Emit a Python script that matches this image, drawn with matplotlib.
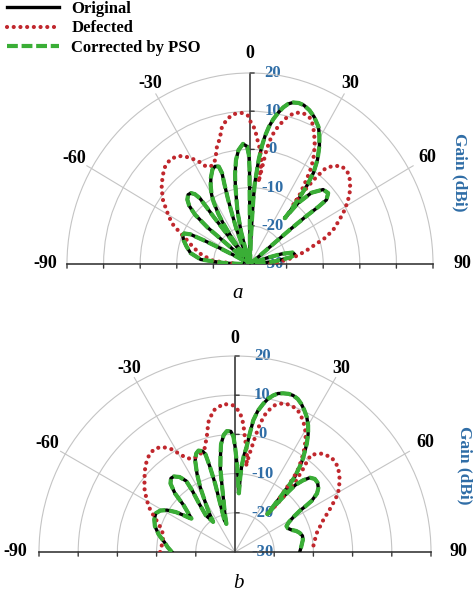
import numpy as np
import matplotlib
matplotlib.use("Agg")
import matplotlib.pyplot as plt

# ---------------- data (angle in degrees, gain in dBi) ----------------
top_original = [
    (-90, -28), (-88, -23), (-85, -16.5), (-80, -13.5), (-75, -12), (-71, -10.8), (-68, -10.2),
    (-66, -10.3), (-64.5, -12), (-63.8, -16), (-63.3, -20), (-62.5, -25), (-60, -30),
    (-51, -30), (-50.5, -25), (-50.5, -20), (-50.5, -15), (-49.3, -10.2), (-47.5, -7.5), (-45.5, -6),
    (-43, -5.2), (-41, -5.4), (-39.5, -6.3), (-38.5, -8), (-38.6, -11), (-38.8, -14), (-38.8, -19),
    (-39, -24), (-38, -30),
    (-37, -30), (-36.5, -26), (-36, -21.6), (-34.5, -17), (-33.5, -14.5), (-31.5, -11), (-30, -9),
    (-27.5, -6.7), (-25.3, -5), (-22.5, -3.2), (-20.5, -2.7), (-18.5, -3.1), (-17.8, -5), (-18.5, -8),
    (-19.5, -12), (-20.5, -16), (-22, -20), (-23, -24), (-22, -30),
    (-18, -30), (-17, -25), (-16, -21), (-14, -16), (-12.5, -13), (-11, -9), (-9.8, -6), (-8, -2.5),
    (-6, 0), (-3.5, 1.5), (-1.5, 0.8), (-0.6, -1.5), (-0.3, -5), (-0.3, -9), (-0.3, -14), (-0.3, -20),
    (0, -30),
    (1, -30), (2, -24), (2.7, -18), (3.1, -13), (3.5, -9), (4.5, -5), (5, -2.5), (6, 1), (7, 3.8),
    (8.2, 6.3), (9.5, 8.4), (11, 10.3), (12.5, 12), (14, 13.2), (15.6, 13.9), (17.5, 14.2),
    (19.5, 14.1), (22, 13.4), (24.5, 12.3), (27.5, 10.5), (29.5, 8.5), (31.5, 6.3), (34, 3),
    (36, -0.5), (37.2, -4.4), (38, -8.6), (38.3, -12.4), (38.4, -14.7),
    (39.5, -9.3), (42, -4.9), (45.7, -2.1), (49, -1.7), (51.2, -3.2), (51.3, -6), (50.8, -10.5),
    (50.5, -16), (50.5, -22), (51, -27), (52, -30),
    (70, -30), (71, -25), (73, -21), (75.5, -18), (78.5, -17.5), (81, -18.8), (84, -23), (87, -28),
    (90, -30),
]

top_defected = [
    (-90, -27), (-88, -25), (-85.4, -20), (-79.7, -16.6), (-74.5, -14), (-69, -11), (-66.8, -9.2),
    (-63.4, -6.1), (-58.7, -3.4), (-54.8, -0.9), (-50.5, 1.3), (-46, 3.2), (-42.2, 4.5), (-38.5, 5),
    (-35, 4.5), (-32.4, 3.4), (-30, 1.9), (-27.7, 0.4), (-25.3, -1.7), (-23, -2.3), (-20.6, -2),
    (-18.5, -0.5), (-16.7, 1.7), (-14, 4), (-12.2, 6.5), (-9.5, 8.4), (-6.6, 9.5), (-3.3, 9.6),
    (-0.7, 8.8), (0, 7.5), (2.2, 5.3), (3.5, 2.7), (5.2, 0.1), (6.4, -2.4), (6.7, -5), (6.5, -7),
    (6, -8.5), (6.8, -6.8), (7.8, -3.2), (8.6, 0.3), (10, 4), (12.1, 6.9), (14.6, 9.6), (17.2, 11.5),
    (20.2, 12.1), (23.9, 11.5), (27, 8.6), (29.8, 5.6), (32.3, 2.4), (34, -0.7), (35.3, -4),
    (36.8, -7.3), (37.3, -10), (37.2, -10.6),
    (37.6, -7), (38, -4), (38.5, -1), (39.5, 2.5), (41.5, 4.3), (44.3, 5.8), (47.6, 6), (51, 5.1),
    (54.6, 3.6), (58, 1.6), (61.3, -0.5), (64.6, -2.9), (68.6, -5.6), (71.6, -8.4), (74.2, -11.6),
    (77.8, -14.7), (81.2, -17.6), (84, -20), (87, -23), (89.5, -25),
]

top_corrected = list(top_original)

bot_original = [
    (-90, -13.9), (-86, -12.8), (-82, -11.8), (-77, -10), (-72, -8.5), (-68, -7.8), (-64, -7.5),
    (-61, -8.2), (-58.4, -9.6), (-56, -11.8), (-54.5, -13.8), (-53.2, -15.5), (-52.5, -16),
    (-47.7, -12.3), (-45.7, -8.6), (-43.3, -6), (-41, -5.1), (-39, -5.2), (-36.5, -6.2), (-34.5, -8),
    (-34.8, -10.8), (-36.5, -14.5), (-38.5, -18), (-36, -20.5),
    (-33, -17.5), (-30.7, -15), (-28.2, -11.2), (-25.9, -7.8), (-23.5, -4.5), (-21.5, -3),
    (-19.8, -2.5), (-17.8, -3), (-16.8, -4), (-16.4, -7.4), (-16.2, -11.8), (-17, -17),
    (-18.5, -21.5), (-17, -22.5),
    (-14.5, -19.5), (-12.5, -16.5), (-11, -12.5), (-10, -8.5), (-8.5, -5), (-7.4, -2.3), (-5.5, 0),
    (-3.9, 0.9), (-2, 0.8), (-0.8, -0.5), (0, -3), (0.8, -6), (1.6, -8.5), (2.5, -11.5), (3.2, -14.5),
    (3.8, -15),
    (4, -11), (4.4, -8.2), (5.2, -5.5), (6.3, -3), (7, 0), (7.9, 3.9), (9.2, 6.5), (10.8, 8.5),
    (12.2, 10), (13.7, 11.1), (15.2, 11.9), (16.9, 12.3), (18.7, 12.6), (20.4, 12.6), (22.3, 12.2),
    (24.1, 11.4), (26, 10.3), (28, 9), (30, 7.3), (31.8, 5.4), (33.5, 3.2), (34.8, 1.2), (36.2, -0.8),
    (37.2, -2.7), (38.5, -5.5), (39, -8), (39.4, -11), (39.8, -14), (40.5, -17.3),
    (41, -13), (41.5, -9.5), (42, -7), (43.5, -4.8), (45.2, -3.1), (47.5, -2.4), (50, -2.5),
    (52.5, -3.2), (54.5, -4.3), (56.3, -6.5), (57, -8.5), (57.5, -10.3), (59, -12.5), (61, -14.3),
    (63.3, -15.3), (66, -15.2), (68.7, -14.5), (71, -13.5), (73.5, -12.8), (76.5, -12.3),
    (79.8, -12.4), (83, -12.8), (86, -13.1), (90, -13.5),
]

bot_defected = [
    (-90, -10.9), (-86, -11.2), (-83, -11.3), (-79, -11.3), (-76.7, -11.2), (-73.5, -10.5),
    (-71.5, -9.9), (-69, -8.8), (-67, -7.9), (-63.7, -5.9), (-59.6, -3.9), (-55, -1.8), (-50.3, 0),
    (-46, 1.8), (-42, 2.9), (-39, 3.3), (-37, 3.2), (-34.5, 2.5), (-31.5, 0.7), (-29.5, -1.3),
    (-27.3, -3), (-25, -3.8), (-22, -3.8), (-19.5, -3.5), (-16.4, -2.5), (-13.8, 0.2), (-11.6, 3.8),
    (-8.7, 6.5), (-4.5, 7.9), (-0.6, 7.4), (2, 5.7), (3.7, 2.8), (4.9, -0.6), (6.6, -3.9), (7.5, -6.4),
    (7.2, -8), (8.5, -4.5), (9.9, -0.3), (11, 3.3), (12.7, 6.6), (15.2, 8.8), (17.9, 9.9), (21, 10.1),
    (24, 9.5), (27.4, 7.8), (30.9, 5.2), (33.6, 2.2), (35.9, -1.1), (37.3, -3.5), (38.1, -5.5),
    (38.8, -9), (39.8, -13), (40.4, -17.6),
    (41.3, -14), (41.3, -10), (40.5, -6), (39.5, -3), (38.5, -0.5), (38, 1.5), (41.3, 3.4),
    (45.5, 4.5), (50.5, 4.1), (55.6, 2.4), (60.5, 0.2), (64.9, -2.9), (70.2, -6.1), (77.3, -8.7),
    (86, -10), (90, -10.1),
]

bot_corrected = list(bot_original)

angle_ticks = [-90, -60, -30, 0, 30, 60, 90]
gain_ticks = [-30, -20, -10, 0, 10, 20]
series_labels = ["Original", "Defected", "Corrected by PSO"]
panel_labels = ["a", "b"]
radial_title = "Gain (dBi)"

# ---------------- style ----------------
W, H = 474, 594
BLUE = "#2F6DA6"
GRID = "#c4c4c4"
AXC = "#3a3a3a"
RED = "#C0272D"
GREEN = "#3AAE36"
SERIF = ["Liberation Serif", "DejaVu Serif"]

fig = plt.figure(figsize=(W / 100, H / 100), dpi=100)


def polar_panel(cx, cy, rx, ry, original, defected, corrected, lab_r, lab_off):
    hgt = 2 * ry / H
    ax = fig.add_axes([(cx - rx) / W, (H - cy) / H - 0.25 * hgt, 2 * rx / W, hgt],
                      projection="polar")
    ax.set_aspect("auto")
    ax.set_theta_zero_location("N")
    ax.set_theta_direction(-1)
    ax.set_thetamin(-90)
    ax.set_thetamax(90)
    ax.set_ylim(gain_ticks[0], gain_ticks[-1])
    ax.set_thetagrids([a for a in angle_ticks if abs(a) not in (0, 90)], labels=[""] * 4)
    ax.set_rgrids(gain_ticks[1:-1], labels=[""] * (len(gain_ticks) - 2))
    ax.grid(True, color=GRID, lw=0.8)
    ax.tick_params(axis="both", length=0, labelsize=0)
    ax.spines["polar"].set_color(GRID)
    ax.spines["polar"].set_linewidth(0.8)
    for s in ("start", "end"):
        ax.spines[s].set_color(AXC)
        ax.spines[s].set_linewidth(1.2)
    ax.spines["inner"].set_visible(False)
    ax.patch.set_alpha(0)

    # vertical 0-degree axis
    ax.plot([0, 0], [gain_ticks[0], gain_ticks[-1]], color=AXC, lw=1.2, zorder=2)
    for g in gain_ticks[1:]:
        ax.annotate("", xy=(0, g), xytext=(3, 0), textcoords="offset points",
                    arrowprops=dict(arrowstyle="-", color=AXC, lw=1, shrinkA=0, shrinkB=0))
        for side in (-90, 90):
            ax.annotate("", xy=(np.deg2rad(side), g), xytext=(0, -3), textcoords="offset points",
                        arrowprops=dict(arrowstyle="-", color=AXC, lw=1, shrinkA=0, shrinkB=0),
                        annotation_clip=False)
    # angular extension ticks beyond outer ring
    for a in angle_ticks:
        if abs(a) in (0, 90):
            continue
        ax.annotate("", xy=(np.deg2rad(a), gain_ticks[-1]),
                    xytext=(4 * np.sin(np.deg2rad(a)), 4 * np.cos(np.deg2rad(a))),
                    textcoords="offset points",
                    arrowprops=dict(arrowstyle="-", color=GRID, lw=0.8, shrinkA=0, shrinkB=0),
                    annotation_clip=False)

    # radial labels (beneath the curves)
    for g in gain_ticks:
        ax.annotate(str(g), xy=(0, g), xytext=(lab_off, 0), textcoords="offset points",
                    ha="center", va="center", color=BLUE, fontsize=12, fontweight="bold",
                    family=SERIF, zorder=2.5, annotation_clip=False)

    o = np.array(original, float)
    d = np.array(defected, float)
    c = np.array(corrected, float)
    l1, = ax.plot(np.deg2rad(o[:, 0]), o[:, 1], color="black", lw=2.4, zorder=3,
                  solid_joinstyle="round")
    l2, = ax.plot(np.deg2rad(d[:, 0]), d[:, 1], color=RED, lw=3.0, ls=(0, (0.01, 1.6)),
                  dash_capstyle="round", zorder=4)
    l3, = ax.plot(np.deg2rad(c[:, 0]), c[:, 1], color=GREEN, lw=3.0, ls=(0, (2.6, 0.9)),
                  zorder=5)

    # angular labels
    for a, r in zip(angle_ticks, lab_r):
        ax.text(np.deg2rad(a), r, str(a), ha="center", va="center", fontsize=13,
                fontweight="bold", family=SERIF, color="black", clip_on=False)
    return ax, (l1, l2, l3)


ax1, handles = polar_panel(250, 264, 183, 191, top_original, top_defected, top_corrected,
                           [26, 25.3, 24.5, 25, 24.7, 25.8, 28], 16.5)
ax2, _ = polar_panel(235, 552, 196, 196, bot_original, bot_defected, bot_corrected,
                     [26, 25.2, 24.2, 24.5, 24.2, 26, 27], 19.5)

fig.text(460 / W, 1 - 172 / H, radial_title, rotation=270, ha="center", va="center",
         color=BLUE, fontsize=12.5, fontweight="bold", family=SERIF)
fig.text(465 / W, 1 - 465 / H, radial_title, rotation=270, ha="center", va="center",
         color=BLUE, fontsize=12.5, fontweight="bold", family=SERIF)
fig.text(238 / W, 1 - 293 / H, panel_labels[0], ha="center", va="center", fontsize=15,
         style="italic", family=SERIF)
fig.text(238 / W, 1 - 583 / H, panel_labels[1], ha="center", va="center", fontsize=15,
         style="italic", family=SERIF)

fig.legend(handles, series_labels, loc="upper left", bbox_to_anchor=(7 / W, 1 - 1 / H),
           frameon=False, borderpad=0, borderaxespad=0, handlelength=3.1, handletextpad=0.75,
           labelspacing=0.2, prop=dict(family=SERIF, weight="bold", size=12))

fig.savefig("out.png", dpi=100)
